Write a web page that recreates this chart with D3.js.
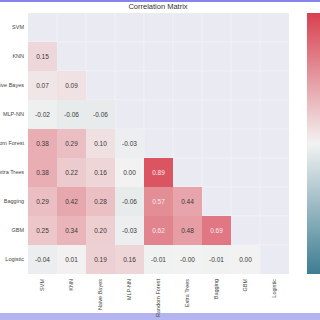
<!DOCTYPE html>
<html>
<head>
<meta charset="utf-8">
<script src="https://cdn.jsdelivr.net/npm/d3@7"></script>
<style>
  body { margin: 0; background: #fff; }
  svg { display: block; font-family: "Liberation Sans", Arial, sans-serif; }
</style>
</head>
<body>
<svg id="chart" width="320" height="320"></svg>
<script>
// models, in row / column order
var models = ["SVM", "KNN", "Naive Bayes", "MLP-NN", "Random Forest", "Extra Trees", "Bagging", "GBM", "Logistic"];

// lower triangle only (row i has i values)
var rowKNN = [0.15];
var rowNB = [0.07, 0.09];
var rowMLP = [-0.02, -0.06, -0.06];
var rowRF = [0.38, 0.29, 0.10, -0.03];
var rowET = [0.38, 0.22, 0.16, 0.00, 0.89];
var rowBag = [0.29, 0.42, 0.28, -0.06, 0.57, 0.44];
var rowGBM = [0.25, 0.34, 0.20, -0.03, 0.62, 0.48, 0.69];
var rowLog = [-0.04, 0.01, 0.19, 0.16, -0.01, -0.00, -0.01, 0.00];
var rowLabels = ["0.15", "0.07 0.09", "-0.02 -0.06 -0.06", "0.38 0.29 0.10 -0.03",
  "0.38 0.22 0.16 0.00 0.89", "0.29 0.42 0.28 -0.06 0.57 0.44",
  "0.25 0.34 0.20 -0.03 0.62 0.48 0.69", "-0.04 0.01 0.19 0.16 -0.01 -0.00 -0.01 0.00"];

var rows = [[], rowKNN, rowNB, rowMLP, rowRF, rowET, rowBag, rowGBM, rowLog];

var cells = [];
rows.forEach(function (r, i) {
    var txt = i > 0 ? rowLabels[i - 1].split(" ") : [];
    r.forEach(function (v, j) {
        cells.push({ row: models[i], col: models[j], value: v, label: txt[j] });
    });
});

var svg = d3.select("#chart");

// frame bands of the original screenshot
svg.append("rect").attr("x", 0).attr("y", 0).attr("width", 320).attr("height", 2).attr("fill", "#8484ec");
svg.append("rect").attr("x", 0).attr("y", 313).attr("width", 320).attr("height", 7).attr("fill", "#b4b4f0");

var padLeft = 28, padTop = 13, size = 261;

var x = d3.scaleBand().domain(models).range([padLeft, padLeft + size]);
var y = d3.scaleBand().domain(models).range([padTop, padTop + size]);

// diverging palette (220 -> 10), centred at 0
var color = d3.scaleLinear()
    .domain([-1, 0, 1])
    .range(["#3d7d92", "#f2f2f2", "#d8404f"])
    .interpolate(d3.interpolateRgb);

// background + grid (seaborn darkgrid look)
svg.append("rect")
    .attr("x", padLeft).attr("y", padTop)
    .attr("width", size).attr("height", size)
    .attr("fill", "#eaeaf2");

svg.append("g")
    .selectAll("line")
    .data(models.slice(1))
    .join("line")
    .attr("x1", d => x(d)).attr("x2", d => x(d))
    .attr("y1", padTop).attr("y2", padTop + size)
    .attr("stroke", "#f4f4f8").attr("stroke-width", 0.8);

svg.append("g")
    .selectAll("line")
    .data(models.slice(1))
    .join("line")
    .attr("y1", d => y(d)).attr("y2", d => y(d))
    .attr("x1", padLeft).attr("x2", padLeft + size)
    .attr("stroke", "#f4f4f8").attr("stroke-width", 0.8);

svg.append("g")
    .selectAll("rect")
    .data(cells)
    .join("rect")
    .attr("x", d => x(d.col))
    .attr("y", d => y(d.row))
    .attr("width", x.bandwidth())
    .attr("height", y.bandwidth())
    .attr("fill", d => color(d.value));

svg.append("g")
    .selectAll("text")
    .data(cells)
    .join("text")
    .attr("x", d => x(d.col) + x.bandwidth() / 2)
    .attr("y", d => y(d.row) + y.bandwidth() / 2)
    .attr("dy", "0.35em")
    .attr("text-anchor", "middle")
    .attr("font-size", 6.5)
    .attr("fill", d => d.value > 0.5 ? "#fbeaec" : "#3a3a3a")
    .text(d => d.label);

// axes
var yAxis = d3.axisLeft(y).tickSize(0).tickPadding(4);
var gy = svg.append("g").attr("transform", "translate(" + padLeft + ",0)").call(yAxis);
gy.select(".domain").remove();
gy.selectAll("text").attr("font-size", 5.5).attr("fill", "#444").attr("font-family", "Liberation Sans, Arial, sans-serif");

var xAxis = d3.axisBottom(x).tickSize(0).tickPadding(4);
var gx = svg.append("g").attr("transform", "translate(0," + (padTop + size) + ")").call(xAxis);
gx.select(".domain").remove();
gx.selectAll("text")
    .attr("font-size", 5.5).attr("fill", "#444")
    .attr("font-family", "Liberation Sans, Arial, sans-serif")
    .attr("text-anchor", "end")
    .attr("dy", "0.35em")
    .attr("transform", "translate(0,5) rotate(-90)")
    .attr("x", 0).attr("y", 0);

// title
svg.append("text")
    .attr("x", 158).attr("y", 9)
    .attr("text-anchor", "middle")
    .attr("font-size", 7.5)
    .attr("fill", "#333")
    .text("Correlation Matrix");

// colour bar
var defs = svg.append("defs");
var grad = defs.append("linearGradient").attr("id", "cbar")
    .attr("x1", 0).attr("y1", 1).attr("x2", 0).attr("y2", 0);
d3.range(0, 1.0001, 0.1).forEach(function (t) {
    grad.append("stop").attr("offset", t).attr("stop-color", color(-1 + 2 * t));
});
svg.append("rect")
    .attr("x", 307).attr("y", padTop)
    .attr("width", 16).attr("height", size)
    .attr("fill", "url(#cbar)");
</script>
</body>
</html>
